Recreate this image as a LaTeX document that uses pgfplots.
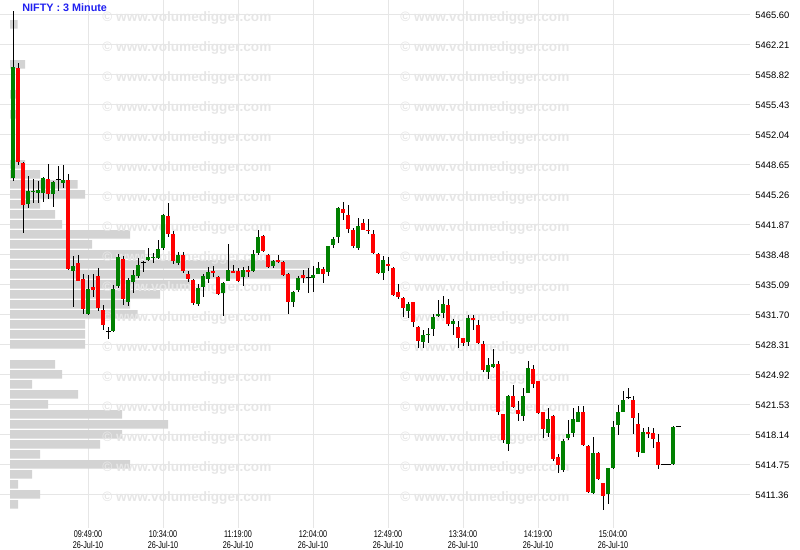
\documentclass[border=0pt]{standalone}
\usepackage{fontspec}
\setmainfont{Liberation Sans}
\newfontfamily\xlabfont[FakeStretch=0.74]{Liberation Sans}
\usepackage{pgfplots}
\pgfplotsset{compat=1.18}
\usepackage{pgfplotstable}

\definecolor{upc}{HTML}{008000}
\definecolor{dnc}{HTML}{FF0000}
\definecolor{volc}{HTML}{D3D3D3}
\definecolor{gridc}{HTML}{E6E6E6}
\definecolor{markc}{HTML}{E6E6E6}
\definecolor{titlec}{HTML}{2020F0}

% 3-minute candles: index, open, high, low, close
\pgfplotstableread{
i o h l c
0 5447.29 5466.17 5446.96 5459.84
1 5459.72 5460.29 5448.76 5448.99
2 5448.88 5448.99 5440.97 5444.24
3 5444.24 5447.41 5443.90 5445.71
4 5445.71 5447.07 5444.36 5445.83
5 5445.49 5446.84 5444.36 5445.83
6 5445.49 5447.29 5444.47 5447.18
7 5447.07 5448.88 5444.92 5445.37
8 5445.37 5446.96 5444.02 5446.73
9 5446.96 5448.54 5445.71 5446.96
10 5446.62 5448.76 5446.16 5446.96
11 5447.07 5447.63 5436.79 5437.01
12 5436.79 5438.37 5432.60 5437.35
13 5437.69 5438.48 5435.54 5435.66
14 5435.88 5436.45 5431.93 5432.49
15 5431.93 5436.33 5431.81 5434.75
16 5434.98 5436.33 5433.73 5434.64
17 5436.11 5437.12 5432.27 5432.49
18 5432.27 5432.83 5430.01 5430.57
19 5429.89 5430.46 5429.10 5429.89
20 5430.01 5435.09 5429.78 5434.75
21 5434.98 5438.71 5434.86 5438.25
22 5438.14 5438.48 5432.94 5433.62
23 5433.17 5435.99 5432.83 5435.66
24 5435.54 5436.79 5434.19 5436.33
25 5436.22 5438.25 5435.99 5437.46
26 5437.58 5437.92 5436.67 5437.58
27 5437.92 5439.27 5437.80 5438.25
28 5438.25 5438.71 5437.58 5438.37
29 5438.25 5440.29 5438.14 5439.27
30 5439.27 5443.23 5439.16 5443.00
31 5443.00 5444.36 5440.51 5440.97
32 5440.97 5441.19 5437.46 5437.92
33 5437.58 5438.82 5437.35 5438.48
34 5438.59 5438.82 5436.45 5436.79
35 5436.22 5436.67 5435.43 5435.66
36 5435.66 5435.77 5432.94 5433.06
37 5432.94 5435.32 5432.83 5434.75
38 5434.86 5436.33 5433.73 5436.11
39 5435.88 5437.24 5435.43 5436.67
40 5436.67 5437.24 5435.99 5436.45
41 5435.99 5436.11 5433.96 5434.07
42 5434.19 5435.43 5431.59 5435.32
43 5435.77 5439.84 5435.66 5437.01
44 5436.79 5437.35 5436.45 5436.56
45 5436.79 5437.12 5435.54 5435.66
46 5436.11 5437.12 5434.98 5436.90
47 5436.90 5437.24 5435.99 5436.67
48 5436.67 5439.05 5436.56 5438.59
49 5438.71 5441.42 5438.59 5440.51
50 5440.63 5440.74 5438.82 5438.93
51 5438.59 5438.71 5437.12 5437.24
52 5437.24 5438.03 5437.12 5437.80
53 5437.92 5438.48 5437.58 5437.75
54 5437.69 5437.80 5436.11 5436.22
55 5436.45 5436.56 5431.93 5433.28
56 5433.17 5434.41 5432.60 5434.30
57 5434.53 5436.22 5434.41 5435.99
58 5436.11 5436.79 5435.32 5435.77
59 5435.94 5437.12 5434.30 5435.94
60 5435.99 5437.35 5434.41 5436.33
61 5436.45 5437.69 5436.39 5437.12
62 5436.90 5437.24 5435.43 5436.33
63 5436.56 5439.61 5436.22 5439.50
64 5439.72 5440.63 5439.38 5440.40
65 5440.63 5444.02 5439.95 5443.90
66 5443.79 5444.58 5442.55 5443.34
67 5443.00 5444.13 5440.97 5441.42
68 5441.42 5441.53 5439.27 5439.50
69 5439.38 5442.66 5439.05 5441.87
70 5442.21 5442.66 5441.42 5441.53
71 5441.42 5442.77 5440.97 5441.31
72 5440.97 5441.31 5438.59 5438.82
73 5438.59 5438.71 5436.40 5436.45
74 5436.56 5438.48 5435.77 5438.03
75 5437.46 5438.37 5436.79 5437.24
76 5437.01 5437.12 5433.85 5433.96
77 5434.30 5435.32 5433.62 5433.73
78 5433.62 5433.73 5431.47 5432.49
79 5432.27 5433.28 5431.47 5433.06
80 5433.17 5433.28 5430.46 5430.91
81 5430.46 5430.57 5428.08 5428.88
82 5428.65 5430.01 5427.97 5429.44
83 5429.61 5430.34 5428.65 5429.72
84 5430.12 5431.93 5429.44 5431.47
85 5431.59 5433.40 5431.47 5431.81
86 5432.04 5433.85 5431.36 5433.06
87 5432.94 5433.62 5430.57 5430.80
88 5430.68 5431.25 5429.44 5431.02
89 5430.46 5431.14 5428.08 5429.21
90 5429.10 5429.21 5428.31 5428.59
91 5428.65 5431.81 5428.31 5431.36
92 5431.36 5431.81 5430.12 5431.14
93 5430.68 5431.25 5428.54 5428.65
94 5428.54 5428.76 5425.26 5425.60
95 5425.26 5426.84 5424.47 5426.05
96 5425.94 5427.97 5425.88 5426.28
97 5426.16 5426.62 5420.51 5420.74
98 5420.51 5420.63 5417.35 5417.58
99 5417.12 5422.66 5416.33 5422.55
100 5422.55 5423.90 5421.25 5421.30
101 5420.97 5422.10 5419.84 5420.51
102 5420.40 5423.56 5419.84 5422.66
103 5423.00 5426.62 5422.94 5425.82
104 5425.71 5426.16 5423.56 5424.02
105 5424.24 5424.36 5420.58 5420.63
106 5420.74 5420.85 5417.91 5418.82
107 5418.37 5421.19 5417.91 5419.95
108 5420.29 5420.40 5415.20 5415.43
109 5415.65 5416.11 5413.96 5414.75
110 5414.30 5417.69 5413.96 5417.58
111 5417.80 5419.95 5417.74 5418.25
112 5418.48 5421.19 5417.91 5420.06
113 5419.72 5421.42 5419.67 5420.85
114 5420.74 5421.42 5416.90 5417.01
115 5416.90 5417.01 5411.59 5411.70
116 5411.70 5418.03 5411.59 5416.22
117 5416.11 5416.22 5413.06 5413.17
118 5412.72 5412.83 5409.78 5411.25
119 5411.47 5414.52 5410.46 5414.41
120 5414.52 5419.84 5414.41 5419.16
121 5419.38 5421.53 5418.14 5420.85
122 5420.85 5423.11 5420.80 5422.21
123 5422.43 5423.56 5422.32 5422.43
124 5422.21 5422.66 5418.37 5420.17
125 5419.50 5420.63 5415.65 5416.33
126 5416.22 5418.93 5416.11 5418.59
127 5418.59 5419.04 5417.80 5418.48
128 5418.37 5419.04 5416.78 5417.69
129 5417.35 5418.25 5414.30 5414.75
130 5414.75 5414.75 5414.75 5414.75
131 5414.75 5414.75 5414.75 5414.75
132 5414.86 5419.16 5414.75 5419.04
133 5419.10 5419.10 5419.10 5419.10
}\candles

% volume at price
\pgfplotstableread{
p v
5464.55 7.7
5460.03 15
5456.64 7
5454.38 7
5448.73 15
5447.60 30
5446.47 67.7
5445.34 75
5444.21 30
5443.08 45
5441.95 52
5440.82 120
5439.69 82
5438.56 135
5437.43 300
5436.30 300
5435.17 180
5434.04 150
5432.91 120
5431.78 127.7
5430.65 75
5429.52 75
5428.39 75
5426.13 45
5425.00 52
5423.87 22
5422.74 68
5421.61 38
5420.48 112
5419.35 158
5418.22 112
5417.09 90
5415.96 30
5414.83 120
5413.70 22
5412.57 8
5411.44 30
5410.31 8
}\profile

\begin{document}
\begin{tikzpicture}
\path[use as bounding box] (0,0) rectangle (400pt,-275pt);

% grid, labels and volume profile
\begin{axis}[
    at={(0,0)}, anchor=north west,
    scale only axis, width=375pt, height=264pt,
    xmin=-10, xmax=740,
    ymin=5407.631, ymax=5467.295,
    axis line style={draw=none},
    tick style={draw=none},
    grid=major,
    major grid style={gridc, line width=0.5pt},
    xtick={78,153,228,303,378,453,528,603},
    xticklabels={{09:49:00\\26-Jul-10},{10:34:00\\26-Jul-10},{11:19:00\\26-Jul-10},
        {12:04:00\\26-Jul-10},{12:49:00\\26-Jul-10},{13:34:00\\26-Jul-10},
        {14:19:00\\26-Jul-10},{15:04:00\\26-Jul-10}},
    xticklabel style={align=center, inner sep=0pt, yshift=-1.2pt,
        font=\xlabfont\fontsize{4.9}{5.3}\selectfont},
    ytick={5411.36,5414.75,5418.14,5421.53,5424.92,5428.31,5431.70,5435.09,
        5438.48,5441.87,5445.26,5448.65,5452.04,5455.43,5458.82,5462.21,5465.60},
    yticklabel pos=right,
    scaled y ticks=false,
    yticklabel style={anchor=west, inner sep=0pt, xshift=2.5pt,
        font=\fontsize{4.7}{5}\selectfont,
        /pgf/number format/.cd, fixed, fixed zerofill, precision=2, 1000 sep={}},
    /pgf/number format/assume math mode=true,
]
\addplot[xbar, bar width=4.25pt, fill=volc, draw=none] table[x=v, y=p] {\profile};
\end{axis}

% watermark
\foreach \r in {0,...,16} {
  \node[anchor=west, inner sep=0pt, text=markc, font=\bfseries\fontsize{6.8}{8}\selectfont]
    at (51pt, {-(9pt+15pt*\r)}) {© www.volumedigger.com};
  \node[anchor=west, inner sep=0pt, text=markc, font=\bfseries\fontsize{6.8}{8}\selectfont]
    at (200pt, {-(9pt+15pt*\r)}) {© www.volumedigger.com};
}

\node[anchor=base west, inner sep=0pt, text=titlec, font=\bfseries\fontsize{5.4}{6}\selectfont]
  at (11pt,-5.9pt) {NIFTY : 3 Minute};

% candles
\begin{axis}[
    at={(0,0)}, anchor=north west,
    scale only axis, width=375pt, height=264pt,
    xmin=-2.6, xmax=147.4,
    ymin=5407.631, ymax=5467.295,
    hide axis,
]
\addplot[draw=none, mark=none,
    error bars/.cd, y dir=both, y explicit, error mark=none,
    error bar style={draw=black, line width=0.5pt}]
  table[x=i, y expr={(\thisrow{h}+\thisrow{l})/2}, y error expr={(\thisrow{h}-\thisrow{l})/2}] {\candles};
\addplot[draw=none, mark=none,
    restrict expr to domain={\thisrow{c}-\thisrow{o}}{0.001:1000},
    error bars/.cd, y dir=both, y explicit, error mark=none,
    error bar style={draw=upc, line width=2pt}]
  table[x=i, y expr={(\thisrow{o}+\thisrow{c})/2}, y error expr={abs(\thisrow{c}-\thisrow{o})/2}] {\candles};
\addplot[draw=none, mark=none,
    restrict expr to domain={\thisrow{c}-\thisrow{o}}{-1000:-0.001},
    error bars/.cd, y dir=both, y explicit, error mark=none,
    error bar style={draw=dnc, line width=2pt}]
  table[x=i, y expr={(\thisrow{o}+\thisrow{c})/2}, y error expr={abs(\thisrow{c}-\thisrow{o})/2}] {\candles};
\addplot[only marks, mark=-, mark size=1.25pt, mark options={black, line width=0.5pt},
    restrict expr to domain={\thisrow{c}-\thisrow{o}}{-0.0005:0.0005}]
  table[x=i, y=o] {\candles};
\end{axis}
\end{tikzpicture}
\end{document}
